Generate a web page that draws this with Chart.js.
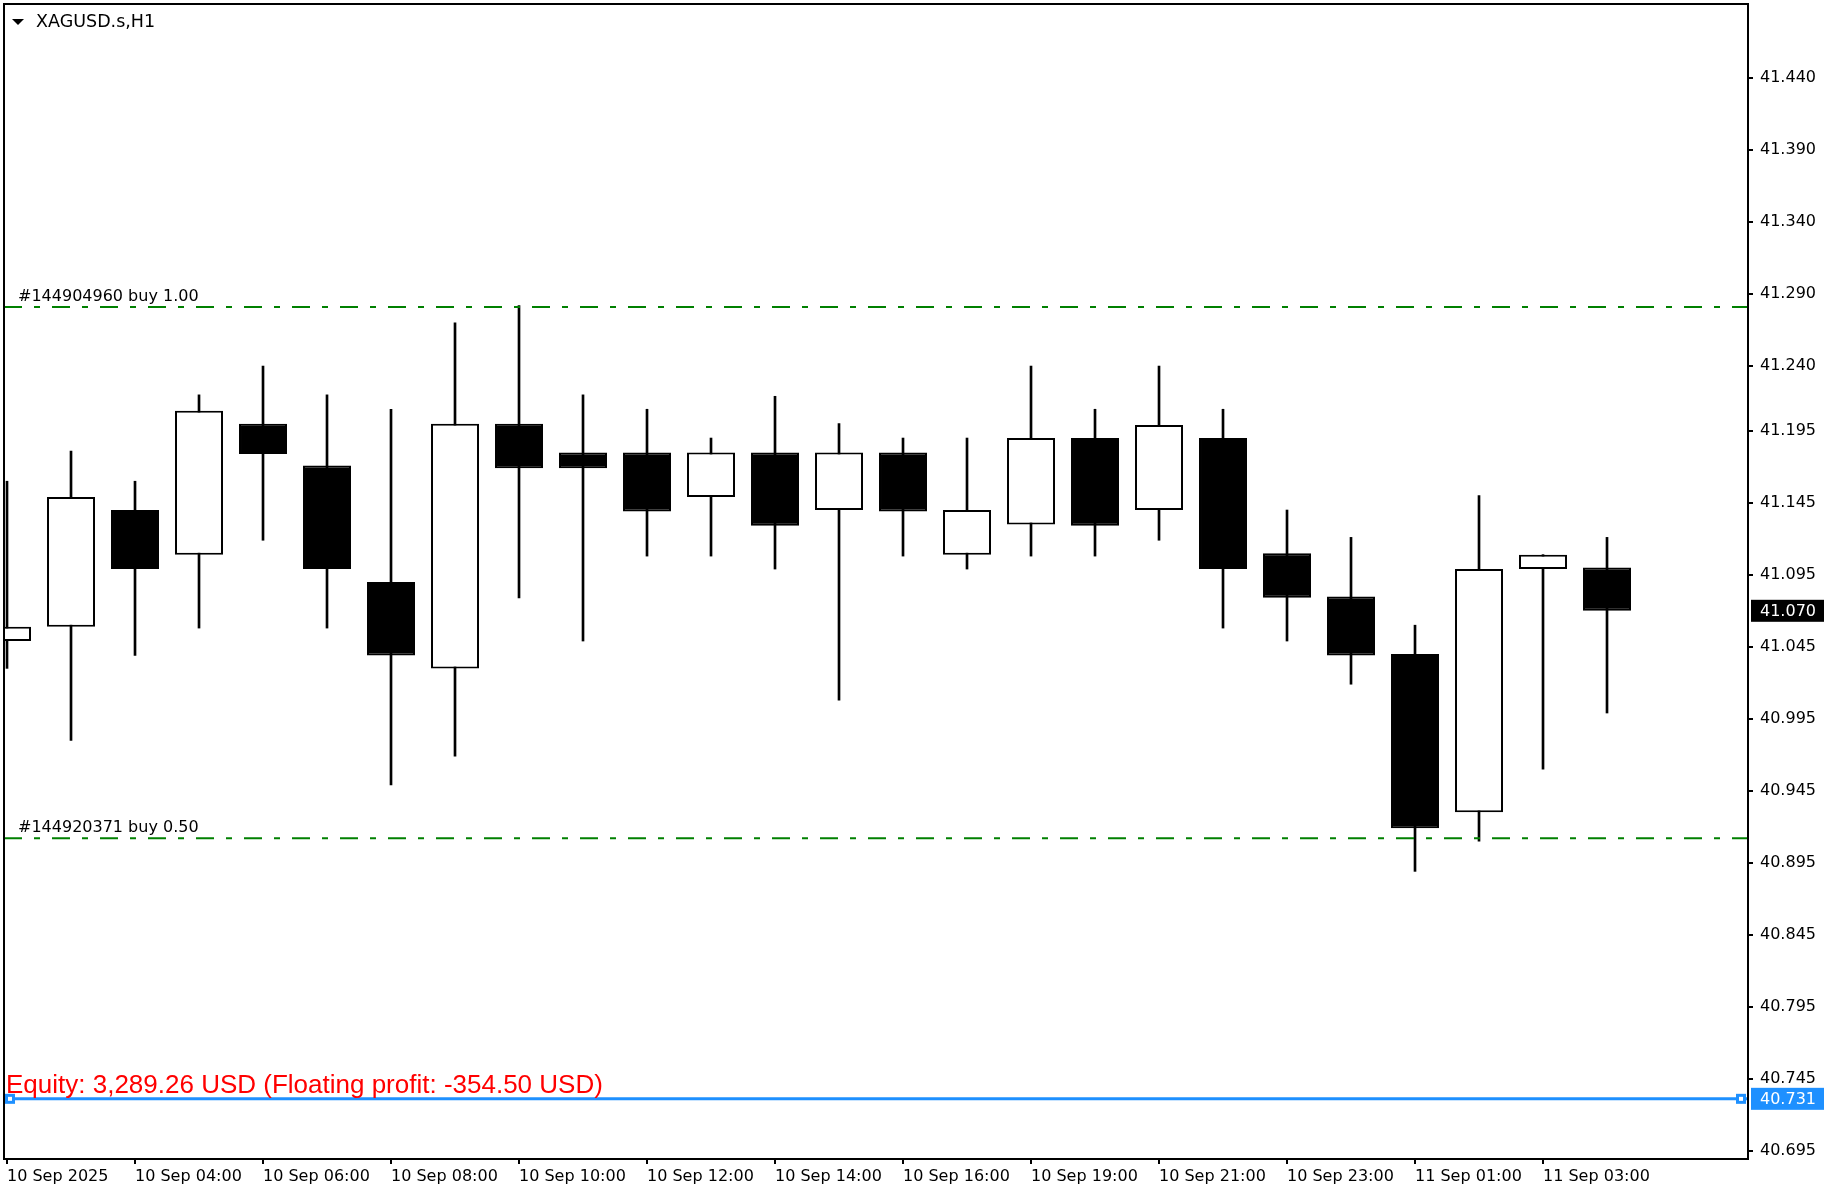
<!DOCTYPE html>
<html>
<head>
<meta charset="utf-8">
<title>XAGUSD.s,H1</title>
<script src="https://cdn.jsdelivr.net/npm/chart.js@4.4.1/dist/chart.umd.min.js"></script>
<style>
  html, body { margin: 0; padding: 0; background: #fff; }
  canvas { display: block; }
</style>
</head>
<body>
<canvas id="myChart" width="1830" height="1200"></canvas>
<script>
var symbolName = "XAGUSD.s,H1";

// one hourly candle per entry
var barTimes = ["10 Sep 02:00", "10 Sep 03:00", "10 Sep 04:00", "10 Sep 05:00", "10 Sep 06:00",
  "10 Sep 07:00", "10 Sep 08:00", "10 Sep 09:00", "10 Sep 10:00", "10 Sep 11:00",
  "10 Sep 12:00", "10 Sep 13:00", "10 Sep 14:00", "10 Sep 15:00", "10 Sep 16:00",
  "10 Sep 17:00", "10 Sep 19:00", "10 Sep 20:00", "10 Sep 21:00", "10 Sep 22:00",
  "10 Sep 23:00", "11 Sep 00:00", "11 Sep 01:00", "11 Sep 02:00", "11 Sep 03:00", "11 Sep 04:00"];
var opens  = [41.049, 41.059, 41.140, 41.109, 41.200, 41.171, 41.090, 41.030, 41.200, 41.180,
  41.180, 41.149, 41.180, 41.140, 41.180, 41.109, 41.130, 41.190, 41.140, 41.190,
  41.110, 41.080, 41.040, 40.930, 41.099, 41.100];
var highs  = [41.160, 41.181, 41.160, 41.220, 41.240, 41.220, 41.210, 41.270, 41.282, 41.220,
  41.210, 41.190, 41.219, 41.200, 41.190, 41.190, 41.240, 41.210, 41.240, 41.210,
  41.140, 41.121, 41.060, 41.150, 41.109, 41.121];
var lows   = [41.030, 40.980, 41.039, 41.058, 41.119, 41.058, 40.949, 40.969, 41.079, 41.049,
  41.108, 41.108, 41.099, 41.008, 41.108, 41.099, 41.108, 41.108, 41.119, 41.058,
  41.049, 41.019, 40.889, 40.910, 40.960, 40.999];
var closes = [41.059, 41.149, 41.099, 41.209, 41.179, 41.099, 41.039, 41.200, 41.169, 41.169,
  41.139, 41.180, 41.129, 41.180, 41.139, 41.140, 41.190, 41.129, 41.199, 41.099,
  41.079, 41.039, 40.919, 41.099, 41.109, 41.070];

// time axis labels, one every second bar
var timeLabels = ["10 Sep 2025", "10 Sep 04:00", "10 Sep 06:00", "10 Sep 08:00", "10 Sep 10:00",
  "10 Sep 12:00", "10 Sep 14:00", "10 Sep 16:00", "10 Sep 19:00", "10 Sep 21:00",
  "10 Sep 23:00", "11 Sep 01:00", "11 Sep 03:00"];
var priceTicks = [41.440, 41.390, 41.340, 41.290, 41.240, 41.195, 41.145, 41.095, 41.045,
  40.995, 40.945, 40.895, 40.845, 40.795, 40.745, 40.695];

var orderPrices = [41.281, 40.912];
var orderNames = ["#144904960 buy 1.00", "#144920371 buy 0.50"];
var equityPrice = 40.731;
var equityText = "Equity: 3,289.26 USD (Floating profit: -354.50 USD)";
var lastPrice = 41.070;

var xMin = -0.047, xMax = 27.203;
var yMin = 40.6892, yMax = 41.4915;

var axisFont = { family: "'DejaVu Sans', sans-serif", size: 16 };

var terminalPlugin = {
  id: 'terminal',
  afterDraw: function(chart) {
    var ctx = chart.ctx;
    var area = chart.chartArea;
    var ys = chart.scales.y;
    ctx.save();

    // frame
    ctx.strokeStyle = '#000';
    ctx.lineWidth = 2;
    ctx.strokeRect(area.left, area.top, area.right - area.left, area.bottom - area.top);

    // symbol title
    ctx.fillStyle = '#000';
    ctx.beginPath();
    ctx.moveTo(area.left + 8, area.top + 15);
    ctx.lineTo(area.left + 20, area.top + 15);
    ctx.lineTo(area.left + 14, area.top + 21);
    ctx.closePath();
    ctx.fill();
    ctx.font = "17.5px 'DejaVu Sans', sans-serif";
    ctx.textBaseline = 'alphabetic';
    ctx.textAlign = 'left';
    ctx.fillText(symbolName, area.left + 32, area.top + 23);

    // order labels
    ctx.font = "16px 'DejaVu Sans', sans-serif";
    for (var i = 0; i < orderPrices.length; i++) {
      ctx.fillText(orderNames[i], area.left + 14, ys.getPixelForValue(orderPrices[i]) - 6);
    }

    // equity line caption
    var ey = ys.getPixelForValue(equityPrice);
    ctx.fillStyle = '#ff0000';
    ctx.font = "26px 'Liberation Sans', Arial, sans-serif";
    ctx.fillText(equityText, area.left + 2, ey - 6);

    // selection handles on the equity line
    [area.left + 6, area.right - 7].forEach(function(hx) {
      ctx.fillStyle = '#1e90ff';
      ctx.fillRect(hx - 5, ey - 5, 10, 10);
      ctx.fillStyle = '#fff';
      ctx.fillRect(hx - 2, ey - 2, 4, 4);
    });

    // price boxes on the axis
    function priceBox(value, bg) {
      var py = ys.getPixelForValue(value);
      ctx.fillStyle = bg;
      ctx.fillRect(area.right + 3, py - 11, 73, 22);
      ctx.fillStyle = '#fff';
      ctx.font = "16px 'DejaVu Sans', sans-serif";
      ctx.textBaseline = 'middle';
      ctx.fillText(value.toFixed(3), area.right + 12, py + 1);
    }
    priceBox(lastPrice, '#000');
    priceBox(equityPrice, '#1e90ff');
    ctx.restore();
  }
};

function renderChart() {
  var ctx = document.getElementById("myChart").getContext('2d');

  var bodies = opens.map(function(o, i) { return { x: i, y: [o, closes[i]] }; });
  var wicks = lows.map(function(l, i) { return { x: i, y: [l, highs[i]] }; });
  var bodyColors = opens.map(function(o, i) { return closes[i] >= o ? '#ffffff' : '#000000'; });

  var datasets = [{
    type: 'bar',
    label: 'body',
    data: bodies,
    backgroundColor: bodyColors,
    borderColor: '#000',
    borderWidth: 2,
    borderSkipped: false,
    barPercentage: 0.75,
    categoryPercentage: 1,
    grouped: false,
    order: 1
  }, {
    type: 'bar',
    label: 'wick',
    data: wicks,
    backgroundColor: '#000',
    barThickness: 2,
    grouped: false,
    order: 2
  }];

  orderPrices.forEach(function(p) {
    datasets.push({
      type: 'line',
      data: [{ x: xMin, y: p }, { x: xMax, y: p }],
      borderColor: '#008000',
      borderWidth: 2,
      borderDash: [18, 12, 6, 12],
      pointRadius: 0,
      order: 0
    });
  });
  datasets.push({
    type: 'line',
    data: [{ x: xMin, y: equityPrice }, { x: xMax, y: equityPrice }],
    borderColor: '#1e90ff',
    borderWidth: 3,
    pointRadius: 0,
    order: 0
  });

  new Chart(ctx, {
    type: 'bar',
    data: { datasets: datasets },
    options: {
      responsive: false,
      animation: false,
      layout: { padding: { left: 4, top: 4, right: 0, bottom: 0 } },
      plugins: { legend: { display: false }, tooltip: { enabled: false } },
      scales: {
        x: {
          type: 'linear',
          position: 'bottom',
          min: xMin,
          max: xMax,
          offset: false,
          grid: { offset: false, drawOnChartArea: false, drawTicks: true, tickLength: 5, color: '#000', lineWidth: 2 },
          border: { display: false },
          afterBuildTicks: function(scale) {
            scale.ticks = timeLabels.map(function(t, k) { return { value: k * 2 }; });
          },
          afterFit: function(scale) {
            scale.height = 41;
            scale.paddingLeft = 0; scale.paddingRight = 0;
            scale.paddingTop = 0; scale.paddingBottom = 0;
          },
          ticks: {
            autoSkip: false,
            maxRotation: 0,
            align: 'start',
            padding: 3,
            color: '#000',
            font: axisFont,
            callback: function(v) { return timeLabels[Math.round(v / 2)]; }
          }
        },
        y: {
          type: 'linear',
          position: 'right',
          min: yMin,
          max: yMax,
          grid: { drawOnChartArea: false, drawTicks: true, tickLength: 5, color: '#000', lineWidth: 2 },
          border: { display: false },
          afterBuildTicks: function(scale) {
            scale.ticks = priceTicks.map(function(v) { return { value: v }; });
          },
          afterFit: function(scale) {
            scale.width = 82;
            scale.paddingLeft = 0; scale.paddingRight = 0;
            scale.paddingTop = 0; scale.paddingBottom = 0;
          },
          ticks: {
            padding: 7,
            color: '#000',
            font: axisFont,
            callback: function(v) { return v.toFixed(3); }
          }
        }
      }
    },
    plugins: [terminalPlugin]
  });
}

window.onload = function() {
  renderChart();
};
</script>
</body>
</html>
